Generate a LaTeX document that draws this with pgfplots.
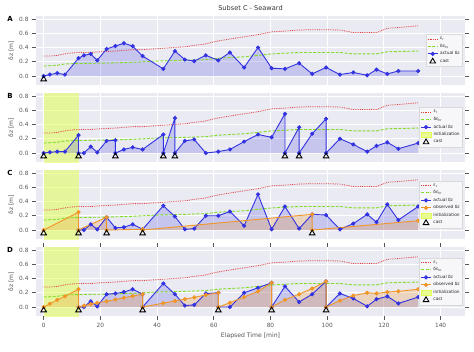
\documentclass[border=0pt]{standalone}
\usepackage{pgfplots}
\usepackage{pgfplotstable}
\pgfplotsset{compat=1.18}
\usepackage{fontspec}
\setmainfont{DejaVu Sans}
\definecolor{bgc}{RGB}{234,234,242}
\definecolor{bl}{RGB}{50,50,225}
\definecolor{orc}{RGB}{240,150,40}
\definecolor{rdc}{RGB}{225,60,60}
\definecolor{grc}{RGB}{130,220,40}
\definecolor{inic}{RGB}{225,255,80}
\definecolor{tkc}{RGB}{85,85,85}

\pgfplotstableread{
t v
0 0.28
2.2 0.28
4.8 0.29
7.5 0.31
9 0.32
12.3 0.33
16.6 0.33
20 0.34
25.3 0.35
31.4 0.37
34.9 0.37
42.2 0.39
49.8 0.41
53.1 0.43
57.2 0.45
60 0.48
65.7 0.52
70.7 0.55
75.6 0.58
80.4 0.62
85.1 0.63
90.1 0.645
94.7 0.65
99.6 0.65
104.5 0.645
109.2 0.61
114.1 0.61
117.4 0.61
121.2 0.67
125.1 0.68
132.1 0.705
}\redtab

\pgfplotstableread{
t v
0 0.14
4.8 0.15
7.5 0.17
12.3 0.175
20 0.18
30 0.19
40 0.21
50 0.22
57.2 0.23
61.6 0.25
65.7 0.26
70.7 0.27
75.6 0.29
80.4 0.31
85.1 0.32
90.1 0.33
104.5 0.33
109.2 0.31
117.4 0.31
121.2 0.34
132.1 0.35
}\greentab

\pgfplotstableread{
t v
0 0.0
2.2 0.02
4.8 0.04
7.5 0.02
12.3 0.25
14.2 0.29
16.6 0.31
18.9 0.22
22.2 0.38
25.3 0.42
28.3 0.46
31.4 0.42
34.9 0.28
42.2 0.10
46.3 0.35
49.8 0.23
53.1 0.21
57.2 0.29
61.6 0.22
65.7 0.33
70.7 0.12
75.6 0.40
80.4 0.11
85.1 0.10
90.1 0.18
94.7 0.03
99.6 0.12
104.5 0.02
109.2 0.05
114.1 0.01
117.4 0.09
121.2 0.03
125.1 0.07
132.1 0.07
}\blueA

\pgfplotstableread{
t v
0 0.0
2.2 0.01
4.8 0.02
7.5 0.02
12.3 0.25
12.3 0.0
14.2 0.0
16.6 0.09
18.9 0.01
22.2 0.17
25.3 0.18
25.3 0.0
28.3 0.05
31.4 0.08
34.9 0.05
42.2 0.26
42.2 0.0
46.3 0.49
46.3 0.0
49.8 0.17
53.1 0.19
57.2 0.0
61.6 0.02
65.7 0.05
70.7 0.16
75.6 0.26
80.4 0.22
85.1 0.55
85.1 0.0
90.1 0.36
90.1 0.0
94.7 0.27
99.6 0.48
99.6 0.0
104.5 0.20
109.2 0.12
114.1 0.02
117.4 0.10
121.2 0.15
125.1 0.06
132.1 0.14
}\blueB

\pgfplotstableread{
t v
12.3 0.0
14.2 0.0
16.6 0.08
18.9 0.01
22.2 0.18
25.3 0.03
28.3 0.04
31.4 0.08
34.9 0.01
42.2 0.34
46.3 0.19
49.8 0.01
53.1 0.02
57.2 0.20
61.6 0.20
65.7 0.26
70.7 0.06
75.6 0.50
80.4 0.01
85.1 0.33
90.1 0.02
94.7 0.22
99.6 0.21
104.5 0.01
109.2 0.09
114.1 0.22
117.4 0.11
121.2 0.36
125.1 0.14
132.1 0.33
}\blueC

\pgfplotstableread{
t v
0 0.0
12.3 0.25
12.3 0.0
22.2 0.18
22.2 0.0
34.9 0.01
34.9 0.0
94.7 0.22
94.7 0.0
132.1 0.13
}\orangeC

\pgfplotstableread{
t v
12.3 0.0
14.2 0.0
16.6 0.08
18.9 0.01
22.2 0.18
25.3 0.19
28.3 0.21
31.4 0.25
34.9 0.18
34.9 0.0
42.2 0.33
46.3 0.18
49.8 0.02
53.1 0.03
57.2 0.19
61.6 0.20
61.6 0.0
65.7 0.0
70.7 0.20
75.6 0.27
80.4 0.34
80.4 0.0
85.1 0.29
90.1 0.07
94.7 0.18
99.6 0.36
99.6 0.0
104.5 0.19
109.2 0.12
114.1 0.01
117.4 0.11
121.2 0.15
125.1 0.05
132.1 0.14
}\blueD

\pgfplotstableread{
t v
0 0.0
2.2 0.045
4.8 0.10
7.5 0.15
12.3 0.25
12.3 0.0
14.2 0.02
16.6 0.04
18.9 0.06
22.2 0.08
25.3 0.105
28.3 0.13
31.4 0.155
34.9 0.18
34.9 0.0
42.2 0.055
46.3 0.085
49.8 0.11
53.1 0.135
57.2 0.17
61.6 0.20
61.6 0.0
65.7 0.06
70.7 0.14
75.6 0.22
80.4 0.34
80.4 0.0
85.1 0.10
90.1 0.18
94.7 0.26
99.6 0.36
99.6 0.0
104.5 0.09
109.2 0.16
114.1 0.20
117.4 0.19
121.2 0.21
125.1 0.22
132.1 0.25
}\orangeD

\pgfplotsset{
 panel/.style={
  scale only axis, width=429pt, height=69pt,
  xmin=-2.7, xmax=148.6, ymin=-0.126, ymax=0.842,
  xtick={0,20,...,140}, ytick={0,0.2,0.4,0.6,0.8},
  yticklabel style={/pgf/number format/.cd, fixed, fixed zerofill, precision=1},
  /pgf/number format/assume math mode=true,
  axis background/.style={fill=bgc},
  grid=major, grid style={white, line width=0.9pt},
  axis line style={draw=none},
  tick align=outside, major tick length=4pt,
  tick style={tkc, line width=0.6pt},
  ticklabel style={font=\fontsize{5.8}{6}\selectfont, text=tkc},
  ylabel={δz [m]},
  ylabel style={font=\fontsize{6}{6}\selectfont, text=tkc, at={(axis description cs:-0.058,0.5)}, anchor=center},
  legend style={at={(0.995,0.5)}, anchor=east, font=\fontsize{4.3}{4.8}\selectfont, draw=black!15, fill=bgc!40!white, inner sep=1pt, row sep=-1.2pt, text=black!85},
  legend cell align=left,
  legend image code/.code={\draw[mark repeat=2,mark phase=2,#1] plot coordinates {(0pt,0pt) (5pt,0pt) (10pt,0pt)};},
 },
 noxt/.style={xticklabels={}, x tick style={draw=none}},
 redl/.style={rdc, line width=0.8pt, dash pattern=on 0.8pt off 1pt},
 grnl/.style={grc, line width=0.9pt, dash pattern=on 3pt off 1.5pt},
 bluel/.style={bl, line width=0.9pt, mark=*, mark size=1.6pt, mark options={solid}},
 orl/.style={orc, line width=0.9pt, mark=*, mark size=1.6pt, mark options={solid}},
 castm/.style={only marks, mark=triangle, mark size=3.2pt, mark options={black, line width=0.9pt, fill=none}},
 bfill/.style={draw=none, fill=bl, fill opacity=0.2, forget plot},
 ofill/.style={draw=none, fill=orc, fill opacity=0.25, forget plot},
 initb/.style={draw=none, fill=inic, fill opacity=0.53, forget plot},
 initleg/.style={legend image code/.code={\fill[inic, fill opacity=0.6] (0pt,-2.2pt) rectangle (10pt,2.2pt);}},
}

\begin{document}
\begin{tikzpicture}
% Panel A
\begin{axis}[panel, noxt, at={(0pt,0pt)}, anchor=north west]
\addplot[bfill] table[x=t,y=v]{\blueA} \closedcycle;
\addplot[redl] table[x=t,y=v]{\redtab};
\addlegendentry{ε\textsubscript{r}}
\addplot[grnl] table[x=t,y=v]{\greentab};
\addlegendentry{δε\textsubscript{hr}}
\addplot[bluel] table[x=t,y=v]{\blueA};
\addlegendentry{actual δz}
\addplot[castm] coordinates {(0,-0.045)};
\addlegendentry{cast}
\end{axis}
% Panel B
\begin{axis}[panel, noxt, at={(0pt,-77pt)}, anchor=north west]
\addplot[initb] coordinates {(0,-0.3) (12.3,-0.3) (12.3,1.2) (0,1.2)} -- cycle;
\addplot[bfill] table[x=t,y=v]{\blueB} \closedcycle;
\addplot[redl] table[x=t,y=v]{\redtab};
\addlegendentry{ε\textsubscript{r}}
\addplot[grnl] table[x=t,y=v]{\greentab};
\addlegendentry{δε\textsubscript{hr}}
\addplot[bluel] table[x=t,y=v]{\blueB};
\addlegendentry{actual δz}
\addlegendimage{initleg}
\addlegendentry{initialization}
\addplot[castm] coordinates {(0,-0.045) (12.3,-0.045) (25.3,-0.045) (42.2,-0.045) (46.3,-0.045) (85.1,-0.045) (90.1,-0.045) (99.6,-0.045)};
\addlegendentry{cast}
\end{axis}
% Panel C
\begin{axis}[panel, noxt, at={(0pt,-154pt)}, anchor=north west]
\addplot[initb] coordinates {(0,-0.3) (12.3,-0.3) (12.3,1.2) (0,1.2)} -- cycle;
\addplot[bfill] table[x=t,y=v]{\blueC} \closedcycle;
\addplot[ofill] table[x=t,y=v]{\orangeC} \closedcycle;
\addplot[redl] table[x=t,y=v]{\redtab};
\addlegendentry{ε\textsubscript{r}}
\addplot[grnl] table[x=t,y=v]{\greentab};
\addlegendentry{δε\textsubscript{hr}}
\addplot[bluel] table[x=t,y=v]{\blueC};
\addlegendentry{actual δz}
\addplot[orl] table[x=t,y=v]{\orangeC};
\addlegendentry{observed δz}
\addlegendimage{initleg}
\addlegendentry{initialization}
\addplot[castm] coordinates {(0,-0.045) (12.3,-0.045) (22.2,-0.045) (34.9,-0.045) (94.7,-0.045)};
\addlegendentry{cast}
\end{axis}
% Panel D
\begin{axis}[panel, at={(0pt,-231pt)}, anchor=north west,
  xlabel={Elapsed Time [min]}, xlabel style={font=\fontsize{6.1}{6.5}\selectfont, text=tkc, yshift=2pt}]
\addplot[initb] coordinates {(0,-0.3) (12.3,-0.3) (12.3,1.2) (0,1.2)} -- cycle;
\addplot[bfill] table[x=t,y=v]{\blueD} \closedcycle;
\addplot[ofill] table[x=t,y=v]{\orangeD} \closedcycle;
\addplot[redl] table[x=t,y=v]{\redtab};
\addlegendentry{ε\textsubscript{r}}
\addplot[grnl] table[x=t,y=v]{\greentab};
\addlegendentry{δε\textsubscript{hr}}
\addplot[bluel] table[x=t,y=v]{\blueD};
\addlegendentry{actual δz}
\addplot[orl] table[x=t,y=v]{\orangeD};
\addlegendentry{observed δz}
\addlegendimage{initleg}
\addlegendentry{initialization}
\addplot[castm] coordinates {(0,-0.045) (12.3,-0.045) (34.9,-0.045) (61.6,-0.045) (80.4,-0.045) (99.6,-0.045)};
\addlegendentry{cast}
\end{axis}
\node[font=\fontsize{6.6}{7}\selectfont, text=black!80] at (214.5pt, 8pt) {Subset C - Seaward};
\node[font=\bfseries\fontsize{7}{7}\selectfont] at (-26pt, -3pt) {A};
\node[font=\bfseries\fontsize{7}{7}\selectfont] at (-26pt, -80pt) {B};
\node[font=\bfseries\fontsize{7}{7}\selectfont] at (-26pt, -157pt) {C};
\node[font=\bfseries\fontsize{7}{7}\selectfont] at (-26pt, -234pt) {D};
\path (-36pt,16pt) rectangle (438pt,-335pt);
\end{tikzpicture}
\end{document}
